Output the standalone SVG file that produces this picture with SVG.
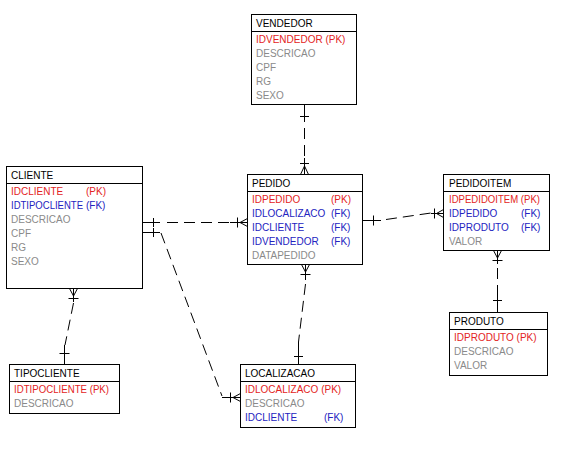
<svg xmlns="http://www.w3.org/2000/svg" width="570" height="449" viewBox="0 0 570 449">
<style>
.box{fill:#fff;stroke:#000;stroke-width:1}
.hl{stroke:#000;stroke-width:1}
text{font-family:"Liberation Sans",Arial,sans-serif;font-size:10px}
.t{fill:#000}
.pk{fill:#e32323}
.fk{fill:#2323c0}
.at{fill:#8a8a8a}
.c{fill:none;stroke:#000;stroke-width:1}
.d{stroke-dasharray:11 6}
</style>
<rect width="570" height="449" fill="#fff"/>
<g id="connectors">
  <!-- VENDEDOR - PEDIDO -->
  <path class="c" d="M304.5,104.5V122M300,116.5H309"/>
  <path class="c d" d="M304.5,128V158"/>
  <path class="c" d="M304.5,158V174.5M300,163.5H309M304.5,166L300.5,174.5M304.5,166L308.5,174.5"/>
  <!-- CLIENTE - PEDIDO -->
  <path class="c" d="M142.5,222.5H160M153.5,218V227"/>
  <path class="c d" d="M167,222.5H230"/>
  <path class="c" d="M230,222.5H247.5M237.5,217.5V227.5M240,222.5L247.5,218.5M240,222.5L247.5,226.5"/>
  <!-- CLIENTE - LOCALIZACAO -->
  <path class="c" d="M142.5,232.5H160M153.5,228V237"/>
  <path class="c d" d="M161,233L222,396"/>
  <path class="c" d="M222,397.5H240.5M230.5,392.5V402.5M233,397.5L240.5,393.5M233,397.5L240.5,401.5"/>
  <!-- CLIENTE - TIPOCLIENTE -->
  <path class="c" d="M73.5,288.5V302M73.5,296L69.5,288.5M73.5,296L77.5,288.5M68.5,298.5H78.5"/>
  <path class="c d" d="M73.5,303L65,345"/>
  <path class="c" d="M64.5,345V364.5M59.5,353.5H69.5"/>
  <!-- PEDIDO - LOCALIZACAO -->
  <path class="c" d="M305.5,264.5V280M305.5,272L301.5,264.5M305.5,272L309.5,264.5M300.5,274.5H310.5"/>
  <path class="c d" d="M305.5,284L298.5,342"/>
  <path class="c" d="M298.5,342V364.5M294,356.5H303"/>
  <!-- PEDIDO - PEDIDOITEM -->
  <path class="c" d="M362.5,220.5H381M373.5,215.5V225.5"/>
  <path class="c d" d="M386,219.5L431,213"/>
  <path class="c" d="M431,213.5H443.5M434.5,208.5V218.5M436.5,213.5L443.5,209.5M436.5,213.5L443.5,217.5"/>
  <!-- PEDIDOITEM - PRODUTO -->
  <path class="c" d="M497.5,250.5V264M497.5,258L493.5,250.5M497.5,258L501.5,250.5M492.5,260.5H502.5"/>
  <path class="c d" d="M497.5,268V292"/>
  <path class="c" d="M497.5,292V312.5M493,300.5H502"/>
</g>
<g id="vendedor">
  <rect class="box" x="251.5" y="14.5" width="105" height="90"/>
  <line class="hl" x1="251.5" y1="31.5" x2="356.5" y2="31.5"/>
  <text class="t" x="256" y="26.5">VENDEDOR</text>
  <text class="pk" x="256" y="42.5">IDVENDEDOR (PK)</text>
  <text class="at" x="256" y="56.5">DESCRICAO</text>
  <text class="at" x="256" y="70.5">CPF</text>
  <text class="at" x="256" y="84.5">RG</text>
  <text class="at" x="256" y="98.5">SEXO</text>
</g>
<g id="cliente">
  <rect class="box" x="6.5" y="166.5" width="136" height="122"/>
  <line class="hl" x1="6.5" y1="183.5" x2="142.5" y2="183.5"/>
  <text class="t" x="11" y="178.5">CLIENTE</text>
  <text class="pk" x="11" y="194.5">IDCLIENTE</text>
  <text class="pk" x="86" y="194.5">(PK)</text>
  <text class="fk" x="11" y="208.5" textLength="72" lengthAdjust="spacingAndGlyphs">IDTIPOCLIENTE</text>
  <text class="fk" x="86" y="208.5">(FK)</text>
  <text class="at" x="11" y="222.5">DESCRICAO</text>
  <text class="at" x="11" y="236.5">CPF</text>
  <text class="at" x="11" y="250.5">RG</text>
  <text class="at" x="11" y="264.5">SEXO</text>
</g>
<g id="pedido">
  <rect class="box" x="247.5" y="174.5" width="115" height="90"/>
  <line class="hl" x1="247.5" y1="191.5" x2="362.5" y2="191.5"/>
  <text class="t" x="252" y="186.5">PEDIDO</text>
  <text class="pk" x="252" y="202.5">IDPEDIDO</text>
  <text class="pk" x="331" y="202.5">(PK)</text>
  <text class="fk" x="252" y="216.5">IDLOCALIZACO</text>
  <text class="fk" x="331" y="216.5">(FK)</text>
  <text class="fk" x="252" y="230.5">IDCLIENTE</text>
  <text class="fk" x="331" y="230.5">(FK)</text>
  <text class="fk" x="252" y="244.5">IDVENDEDOR</text>
  <text class="fk" x="331" y="244.5">(FK)</text>
  <text class="at" x="252" y="258.5">DATAPEDIDO</text>
</g>
<g id="pedidoitem">
  <rect class="box" x="443.5" y="174.5" width="106" height="76"/>
  <line class="hl" x1="443.5" y1="191.5" x2="549.5" y2="191.5"/>
  <text class="t" x="449" y="186.5">PEDIDOITEM</text>
  <text class="pk" x="449" y="202.5" textLength="91" lengthAdjust="spacingAndGlyphs">IDPEDIDOITEM (PK)</text>
  <text class="fk" x="449" y="216.5">IDPEDIDO</text>
  <text class="fk" x="521" y="216.5">(FK)</text>
  <text class="fk" x="449" y="230.5">IDPRODUTO</text>
  <text class="fk" x="521" y="230.5">(FK)</text>
  <text class="at" x="449" y="244.5">VALOR</text>
</g>
<g id="produto">
  <rect class="box" x="449.5" y="312.5" width="98" height="63"/>
  <line class="hl" x1="449.5" y1="329.5" x2="547.5" y2="329.5"/>
  <text class="t" x="454" y="324.5">PRODUTO</text>
  <text class="pk" x="454" y="340.5">IDPRODUTO (PK)</text>
  <text class="at" x="454" y="354.5">DESCRICAO</text>
  <text class="at" x="454" y="368.5">VALOR</text>
</g>
<g id="tipocliente">
  <rect class="box" x="9.5" y="364.5" width="110" height="49"/>
  <line class="hl" x1="9.5" y1="381.5" x2="119.5" y2="381.5"/>
  <text class="t" x="14" y="376.5">TIPOCLIENTE</text>
  <text class="pk" x="14" y="392.5" textLength="95" lengthAdjust="spacingAndGlyphs">IDTIPOCLIENTE (PK)</text>
  <text class="at" x="14" y="406.5">DESCRICAO</text>
</g>
<g id="localizacao">
  <rect class="box" x="240.5" y="364.5" width="115" height="63"/>
  <line class="hl" x1="240.5" y1="381.5" x2="355.5" y2="381.5"/>
  <text class="t" x="245" y="376.5">LOCALIZACAO</text>
  <text class="pk" x="245" y="392.5">IDLOCALIZACO (PK)</text>
  <text class="at" x="245" y="406.5">DESCRICAO</text>
  <text class="fk" x="245" y="420.5">IDCLIENTE</text>
  <text class="fk" x="324" y="420.5">(FK)</text>
</g>
</svg>
